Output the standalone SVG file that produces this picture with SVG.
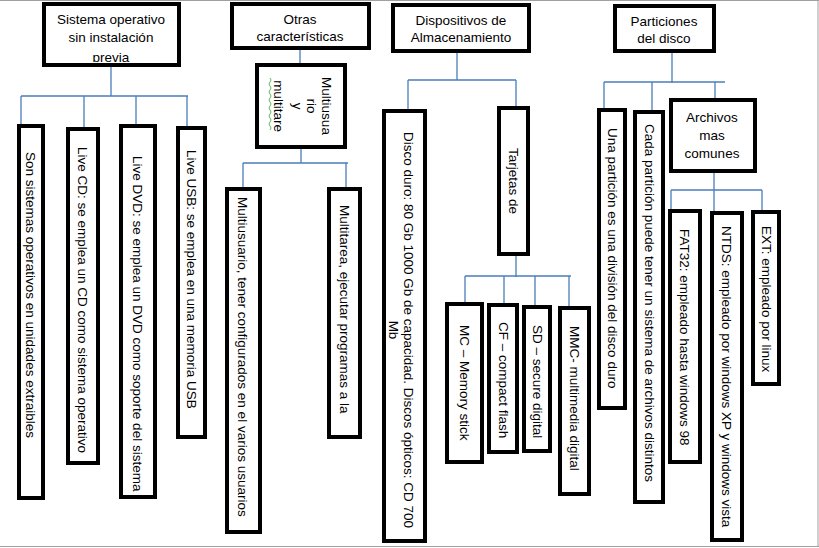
<svg xmlns="http://www.w3.org/2000/svg" width="819" height="548" viewBox="0 0 819 548">
<style>
.b{fill:#fff;stroke:#000;stroke-width:4}
.c{fill:none;stroke:#4a7ebb;stroke-width:1.3}
text{font-family:"Liberation Sans",Arial,sans-serif;font-size:13.5px;fill:#000}
.m{text-anchor:middle}
</style>
<defs><clipPath id="cd"><rect x="386" y="113" width="37" height="426"/></clipPath><clipPath id="c1"><rect x="46" y="6" width="131" height="56"/></clipPath></defs>
<rect width="819" height="548" fill="#fff"/>
<path d="M0 0.5H819M818 0V547M0 546.5H819" stroke="#a0a0a0" fill="none"/>
<g id="connectors">
<path class="c" d="M111 65V96M21 96H188M21 96V126M84 96V127M136 96V126M187 96V128"/>
<path class="c" d="M300 48V65M301 147V163M243 163H348M243 163V189M346 163V189"/>
<path class="c" d="M457 51V80M408 80H516M408 80V110M516 80V108"/>
<path class="c" d="M516 254V277M465 276H571M465 276V304M504 276V305M535 276V307M569 276V308"/>
<path class="c" d="M672 51V83M604 82H725M604 82V110M652 82V112M715 82V100"/>
<path class="c" d="M714 171V190M671 190H762M671 190V211M714 190V213M762 190V212"/>
</g>
<g id="n1"><rect class="b" x="44" y="4" width="135" height="61"/><g clip-path="url(#c1)"><text class="m" x="111" y="24">Sistema operativo</text><text class="m" x="111" y="42">sin instalación</text><text class="m" x="111" y="62">previa</text></g></g>
<g id="n2"><rect class="b" x="232" y="4" width="137" height="44"/><text class="m" x="300" y="24">Otras</text><text class="m" x="300" y="41">características</text></g>
<g id="n3"><rect class="b" x="393" y="5" width="136" height="46"/><text class="m" x="461" y="25">Dispositivos de</text><text class="m" x="461" y="42">Almacenamiento</text></g>
<g id="n4"><rect class="b" x="615" y="6" width="99" height="45"/><text class="m" x="664" y="26">Particiones</text><text class="m" x="664" y="43">del disco</text></g>
<g id="n5"><rect class="b" x="19" y="126" width="24" height="372"/><text transform="translate(26 152) rotate(90)">Son sistemas operativos en unidades extraibles</text></g>
<g id="n6"><rect class="b" x="68" y="129" width="30" height="334"/><text transform="translate(78 147) rotate(90)">Live CD: se emplea un CD como sistema operativo</text></g>
<g id="n7"><rect class="b" x="121" y="126" width="34" height="371"/><text transform="translate(133 156) rotate(90)">Live DVD: se emplea un DVD como soporte del sistema</text></g>
<g id="n8"><rect class="b" x="178" y="128" width="27" height="309"/><text transform="translate(187 150) rotate(90)">Live USB: se emplea en una memoria USB</text></g>
<g id="n9"><rect class="b" x="257" y="65" width="88" height="82"/><text class="m" transform="translate(322 106) rotate(90)">Multiusua</text><text class="m" transform="translate(307 106) rotate(90)">rio</text><text class="m" transform="translate(293 106) rotate(90)">y</text><text class="m" transform="translate(274 106) rotate(90)">multitare</text><path d="M270 78q2 2 0 4t0 4 0 4 0 4 0 4 0 4 0 4 0 4 0 4 0 4 0 4 0 4 0 4" stroke="#3a3" stroke-width="0.8" fill="none"/></g>
<g id="n10"><rect class="b" x="227" y="189" width="33" height="343"/><text transform="translate(238 197) rotate(90)">Multiusuario, tener configurados en el varios usuarios</text></g>
<g id="n11"><rect class="b" x="329" y="189" width="31" height="248"/><text transform="translate(340 205) rotate(90)">Multitarea, ejecutar programas a la</text></g>
<g id="n12"><rect class="b" x="384" y="111" width="41" height="430"/><g clip-path="url(#cd)"><text class="m" transform="translate(404 330) rotate(90)">Disco duro: 80 Gb 1000 Gb de capacidad. Discos ópticos: CD 700</text><text class="m" transform="translate(389 330) rotate(90)">Mb</text></g></g>
<g id="n13"><rect class="b" x="499" y="108" width="29" height="146"/><text transform="translate(509 148) rotate(90)">Tarjetas de</text></g>
<g id="n14"><rect class="b" x="447" y="304" width="35" height="158"/><text transform="translate(460 325) rotate(90)">MC – Memory stick</text></g>
<g id="n15"><rect class="b" x="489" y="305" width="28" height="147"/><text transform="translate(499 322) rotate(90)">CF – compact flash</text></g>
<g id="n16"><rect class="b" x="524" y="307" width="26" height="144"/><text transform="translate(533 325) rotate(90)">SD – secure digital</text></g>
<g id="n17"><rect class="b" x="560" y="308" width="29" height="186"/><text transform="translate(570 326) rotate(90)">MMC- multimedia digital</text></g>
<g id="n18"><rect class="b" x="599" y="110" width="26" height="298"/><text transform="translate(608 128) rotate(90)">Una partición es una división del disco duro</text></g>
<g id="n19"><rect class="b" x="635" y="112" width="28" height="390"/><text transform="translate(645 124) rotate(90)">Cada partición puede tener un sistema de archivos distintos</text></g>
<g id="n20"><rect class="b" x="671" y="100" width="84" height="71"/><text class="m" x="712" y="122">Archivos</text><text class="m" x="712" y="140">mas</text><text class="m" x="712" y="158">comunes</text></g>
<g id="n21"><rect class="b" x="670" y="211" width="30" height="251"/><text transform="translate(680 229) rotate(90)">FAT32: empleado hasta windows 98</text></g>
<g id="n22"><rect class="b" x="712" y="213" width="30" height="327"/><text transform="translate(722 226) rotate(90)">NTDS: empleado por windows XP y windows vista</text></g>
<g id="n23"><rect class="b" x="753" y="212" width="26" height="172"/><text transform="translate(762 226) rotate(90)">EXT: empleado por linux</text></g>
</svg>
